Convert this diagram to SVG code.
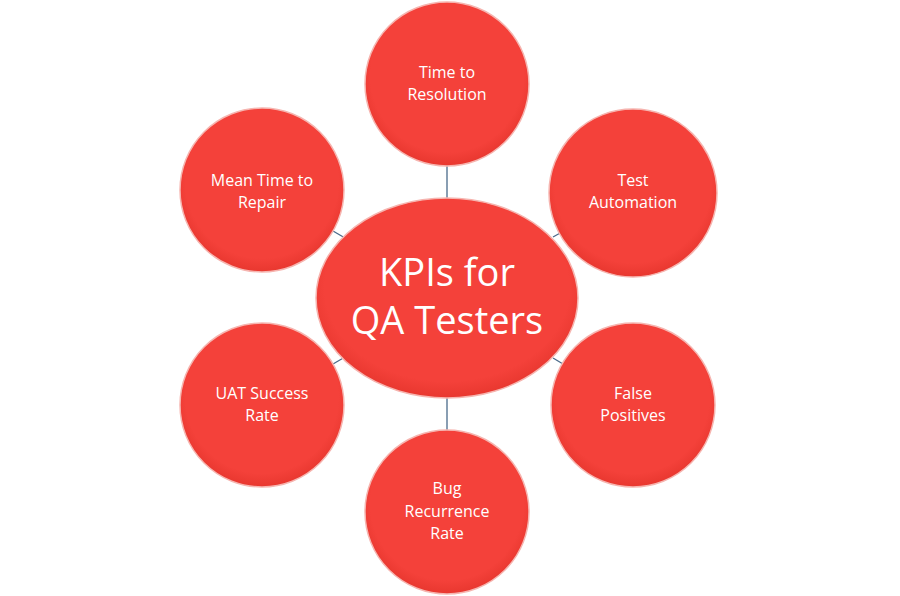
<svg xmlns="http://www.w3.org/2000/svg" width="900" height="596" viewBox="0 0 900 596">
<defs>
<radialGradient id="g" cx="50%" cy="45%" r="55%">
<stop offset="0.85" stop-color="#f4413a"/>
<stop offset="1" stop-color="#e8372f"/>
</radialGradient>
</defs>
<style>
.n{fill:url(#g);stroke:#f6b5b0;stroke-width:1.5}
.t{fill:#fff;font-family:"Open Sans","Noto Sans",sans-serif;font-size:16px;text-anchor:middle}
.c{fill:#fff;font-family:"Open Sans","Noto Sans",sans-serif;font-size:38px;text-anchor:middle}
#connectors line{stroke:#4a6a8a;stroke-width:1.3}
</style>
<rect width="900" height="596" fill="#fff"/>
<g id="connectors">
<line x1="447" y1="166" x2="447" y2="198"/>
<line x1="447" y1="398" x2="447" y2="430"/>
<line x1="333" y1="231" x2="345" y2="238"/>
<line x1="333" y1="364" x2="345" y2="357"/>
<line x1="553" y1="237" x2="562" y2="232"/>
<line x1="553" y1="358" x2="563" y2="364"/>
</g>
<g id="center"><ellipse class="n" cx="447" cy="298" rx="131" ry="100"/>
<text class="c" x="447" y="286">KPIs for</text><text class="c" x="447" y="334">QA Testers</text></g>
<g id="n1"><circle class="n" cx="447" cy="84" r="82"/><text class="t" x="447" y="78">Time to</text><text class="t" x="447" y="100">Resolution</text></g>
<g id="n2"><circle class="n" cx="633" cy="193" r="84"/><text class="t" x="633" y="186">Test</text><text class="t" x="633" y="208">Automation</text></g>
<g id="n3"><circle class="n" cx="633" cy="405" r="82"/><text class="t" x="633" y="399">False</text><text class="t" x="633" y="421">Positives</text></g>
<g id="n4"><circle class="n" cx="447" cy="512" r="82"/><text class="t" x="447" y="494">Bug</text><text class="t" x="447" y="517">Recurrence</text><text class="t" x="447" y="539">Rate</text></g>
<g id="n5"><circle class="n" cx="262" cy="405" r="82"/><text class="t" x="262" y="399">UAT Success</text><text class="t" x="262" y="421">Rate</text></g>
<g id="n6"><circle class="n" cx="262" cy="190" r="82"/><text class="t" x="262" y="186">Mean Time to</text><text class="t" x="262" y="208">Repair</text></g>
</svg>
